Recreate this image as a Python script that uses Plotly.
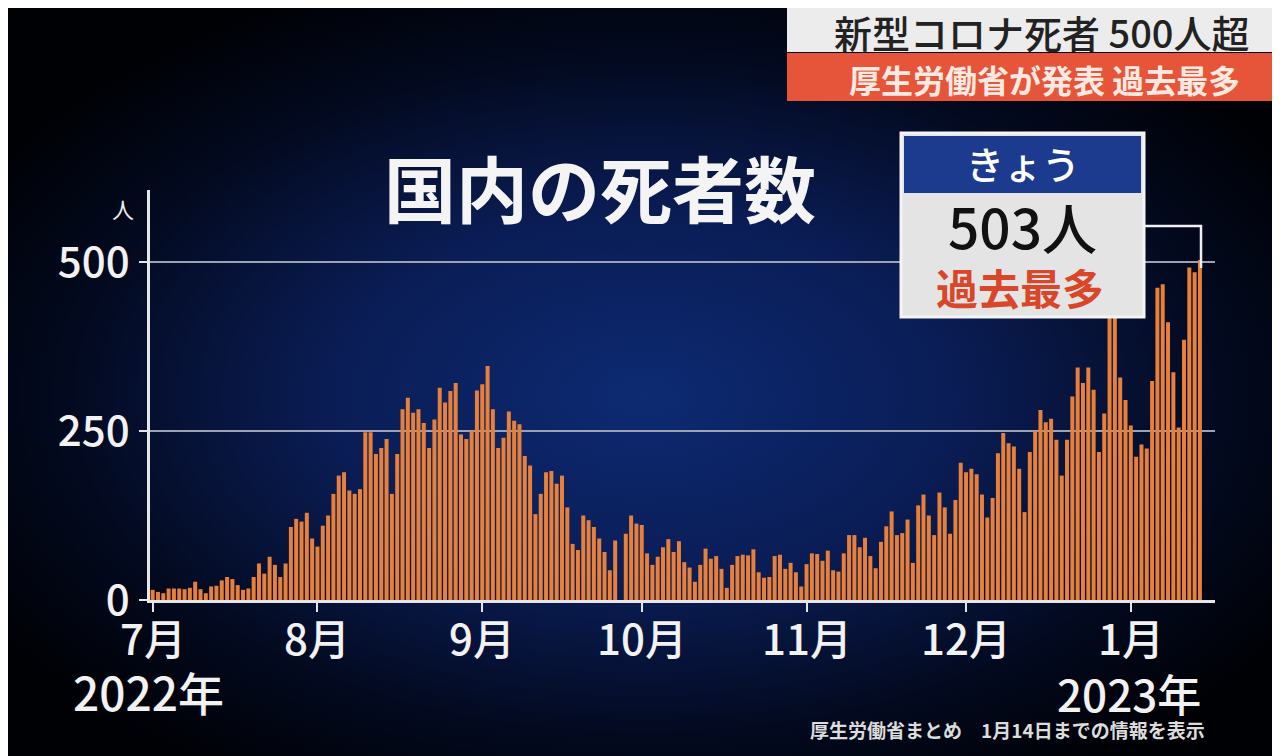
import base64
import pandas as pd
import plotly.graph_objects as go

# ---- data (daily deaths) ----
jul = [15, 12, 10, 17, 17, 17, 16, 18, 27, 16, 10, 20, 21, 29, 34, 31, 22, 15, 17, 34,
       54, 39, 64, 52, 34, 54, 108, 120, 116, 129, 91]
aug = [79, 110, 125, 157, 184, 189, 162, 157, 164, 248, 248, 216, 225, 238, 157, 216,
       282, 299, 277, 282, 262, 225, 267, 314, 292, 309, 321, 245, 238, 250, 310]
sep = [319, 346, 282, 225, 240, 279, 265, 260, 213, 199, 127, 157, 189, 191, 172, 184,
       137, 83, 74, 125, 118, 108, 91, 71, 44, 88, None, 98, 125, 113]
oct_ = [111, 69, 52, 64, 78, 90, 71, 87, 56, 48, 27, 52, 76, 61, 65, 46, 18, 52, 65, 67,
        66, 75, 41, 33, 34, 65, 67, 46, 55, 41, 20]
nov = [53, 69, 68, 58, 73, 44, 42, 69, 96, 96, 78, 92, 65, 47, 86, 109, 131, 96, 99, 119,
       55, 140, 156, 125, 96, 159, 137, 98, 148, 203]
dec = [189, 194, 186, 156, 122, 151, 217, 247, 232, 227, 194, 130, 219, 250, 281, 263,
       268, 237, 184, 237, 301, 344, 321, 344, 311, 219, 276, 421, 426, 329, 296]
jan = [258, 212, 230, 224, 324, 462, 467, 411, 337, 255, 385, 492, 485, 503]

values = jul + aug + sep + oct_ + nov + dec + jan
dates = pd.date_range("2022-07-01", "2023-01-14", freq="D")

month_ticks = ["2022-07-01", "2022-08-01", "2022-09-01", "2022-10-01",
               "2022-11-01", "2022-12-01", "2023-01-01"]
month_labels = ["7月", "8月", "9月", "10月", "11月", "12月", "1月"]
y_ticks = [0, 250, 500]
y_labels = ["0", "250", "500"]

FONT = "Noto Sans CJK JP, Noto Sans, sans-serif"
# page has an 8px body margin: figure is 8px smaller and all offsets shifted
OFF = 8
W, H = 1280 - OFF, 756 - OFF
L, R, T, B = 150 - OFF, 65, 190 - OFF, 156
PW, PH = W - L - R, H - T - B


def px(x):
    """screen x (reference pixels) -> paper"""
    return (x - OFF - L) / PW


def py(y):
    """screen y (reference pixels) -> paper"""
    return (H - B - (y - OFF)) / PH


svg = (
    "<svg xmlns='http://www.w3.org/2000/svg' width='1280' height='756'>"
    "<defs><radialGradient id='g' cx='0.5' cy='0.52' r='0.6'>"
    "<stop offset='0' stop-color='#0d2a72'/>"
    "<stop offset='0.4' stop-color='#0a1d56'/>"
    "<stop offset='0.75' stop-color='#030a20'/>"
    "<stop offset='1' stop-color='#000105'/>"
    "</radialGradient></defs>"
    "<rect width='1280' height='756' fill='url(#g)'/></svg>"
)
bg_src = "data:image/svg+xml;base64," + base64.b64encode(svg.encode()).decode()

fig = go.Figure(
    go.Bar(x=dates, y=values, marker_color="#e6803a", marker_line_width=0,
           hoverinfo="skip")
)

shapes = [
    dict(type="rect", xref="paper", yref="paper", x0=px(787), x1=px(1290),
         y0=py(52), y1=py(-10), fillcolor="#ececec", line_width=0, layer="above"),
    dict(type="rect", xref="paper", yref="paper", x0=px(787), x1=px(1290),
         y0=py(101), y1=py(53), fillcolor="#e6553a", line_width=0, layer="above"),
    dict(type="rect", xref="paper", yref="paper", x0=px(901), x1=px(1144),
         y0=py(317), y1=py(133), fillcolor="#e4e4e4",
         line=dict(color="#f4f4f4", width=3), layer="above"),
    dict(type="rect", xref="paper", yref="paper", x0=px(904), x1=px(1141),
         y0=py(193), y1=py(136), fillcolor="#1c3a8e", line_width=0, layer="above"),
    dict(type="path", xref="paper", yref="paper",
         path=f"M {px(1144)} {py(226)} L {px(1201)} {py(226)} L {px(1201)} {py(268)}",
         line=dict(color="#f0f0f0", width=2.5), layer="above"),
]

annotations = [
    dict(text="国内の死者数", x=px(600), y=py(185),
         font=dict(size=72, color="#f4f4f4", weight="bold")),
    dict(text="人", x=px(123), y=py(208),
         font=dict(size=22, color="#eeeeee")),
    dict(text="2022年", x=px(148), y=py(691),
         font=dict(size=46, color="#f2f2f2", weight=500)),
    dict(text="2023年", x=px(1129), y=py(693),
         font=dict(size=44, color="#f2f2f2", weight=500)),
    dict(text="厚生労働省まとめ　1月14日までの情報を表示", x=px(1007), y=py(729),
         font=dict(size=19, color="#dcdcdc", weight="bold")),
    dict(text="新型コロナ死者 500人超", x=px(1042), y=py(31),
         font=dict(size=38, color="#222222", weight=500)),
    dict(text="厚生労働省が発表 過去最多", x=px(1044), y=py(79),
         font=dict(size=32, color="#fbe9e2", weight="bold")),
    dict(text="きょう", x=px(1023), y=py(163),
         font=dict(size=38, color="#ffffff", weight=500)),
    dict(text="503人", x=px(1022), y=py(225),
         font=dict(size=55, color="#111111", weight=500)),
    dict(text="過去最多", x=px(1020), y=py(286),
         font=dict(size=42, color="#d9472b", weight="bold")),
]
for a in annotations:
    a.update(xref="paper", yref="paper", showarrow=False, xanchor="center",
             yanchor="middle")
    a["font"]["family"] = FONT

# month labels placed on the date axis
for d, lab in zip(month_ticks, month_labels):
    annotations.append(dict(text=lab, x=d, xref="x", y=py(636), yref="paper",
                            showarrow=False, xanchor="center", yanchor="middle",
                            font=dict(size=42, color="#f2f2f2", family=FONT,
                                      weight=500)))

fig.update_layout(
    width=W, height=H, autosize=False,
    margin=dict(l=L, r=R, t=T, b=B, pad=0),
    paper_bgcolor="#020510", plot_bgcolor="rgba(0,0,0,0)",
    bargap=0.25, showlegend=False,
    font=dict(family=FONT, color="#f2f2f2"),
    images=[dict(source=bg_src, xref="paper", yref="paper",
                 x=-L / PW, y=1 + T / PH, sizex=W / PW, sizey=H / PH,
                 sizing="stretch", layer="below", xanchor="left", yanchor="top")],
    shapes=shapes,
    annotations=annotations,
    xaxis=dict(
        type="date",
        range=["2022-06-30 12:00", "2023-01-16 20:00"],
        tickmode="array", tickvals=month_ticks, ticktext=month_labels,
        showticklabels=False,
        showgrid=False, zeroline=False,
        showline=True, linecolor="#e6e6e6", linewidth=3,
        ticks="outside", ticklen=9, tickwidth=2, tickcolor="#e6e6e6",
    ),
    yaxis=dict(
        range=[0, 606.5],
        tickmode="array", tickvals=y_ticks, ticktext=y_labels,
        showgrid=True, gridcolor="#9aa2b4", gridwidth=1.5,
        zeroline=False,
        showline=True, linecolor="#e6e6e6", linewidth=3,
        ticks="outside", ticklen=8, tickwidth=2, tickcolor="#e6e6e6",
        ticklabelstandoff=1,
        tickfont=dict(size=42, color="#f2f2f2", family=FONT, weight=500),
    ),
)

fig.write_html("out.html")
